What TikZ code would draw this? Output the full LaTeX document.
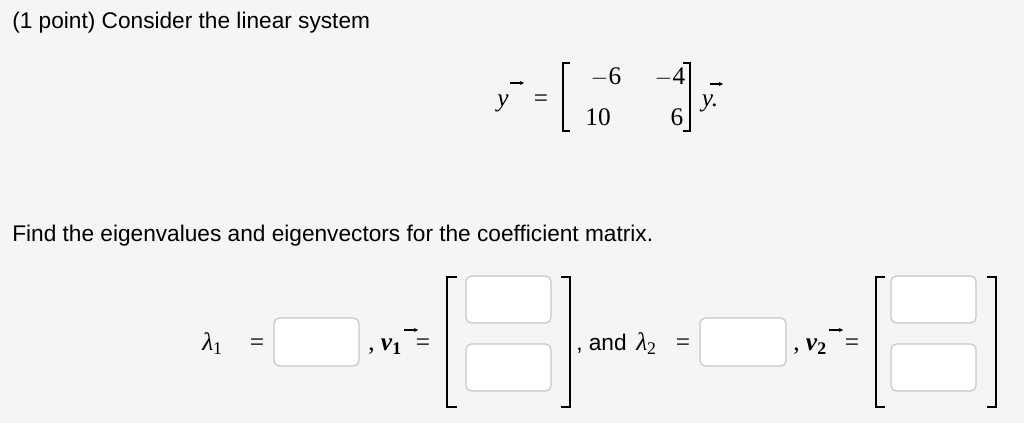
\documentclass[tikz,border=0pt]{standalone}
\usepackage{fontspec}
\usetikzlibrary{arrows.meta}
\setmainfont{Liberation Serif}
\setsansfont{Liberation Sans}
\begin{document}
\begin{tikzpicture}[x=0.75pt,y=-0.75pt,
  sf/.style={font=\sffamily\fontsize{17}{19}\selectfont,inner sep=0,anchor=base west},
  mt/.style={font=\fontsize{19}{21}\selectfont,inner sep=0,anchor=base},
  ibox/.style={draw=black!22,fill=white,rounded corners=4pt,line width=0.9pt},
  brk/.style={line width=1.1pt},
  vec/.style={-{Stealth[length=3pt,width=3pt]},line width=0.8pt}]
\fill[black!4] (0,0) rectangle (1024,423);
\useasboundingbox (0,0) rectangle (1024,423);
\node[sf] (t1) at (12,29) {(1 point) Consider the linear system};
% equation
\node[mt] (y1) at (503,107) {\itshape y};
\draw[vec] (510,83) -- (524,83);
\node[mt] (eq) at (541,107) {=};
\draw[brk] (570,63) -- (563,63) -- (563,131) -- (570,131);
\node[mt] (a) at (606,85) {$-$6};
\node[mt] (b) at (670,85) {$-$4};
\node[mt] (c) at (598,126) {10};
\node[mt] (d) at (677,126) {6};
\draw[brk] (683,63) -- (690,63) -- (690,131) -- (683,131);
\node[mt] (y2) at (710,107) {\itshape y.};
\draw[vec] (710,84) -- (723,84);
\node[sf] (t2) at (12,242) {Find the eigenvalues and eigenvectors for the coefficient matrix.};
% bottom row
\node[mt,anchor=base west] (l1) at (202,351) {\itshape λ\textsubscript{\upshape 1}};
\node[mt] (e1) at (257,351) {=};
\draw[ibox] (274,318) rectangle (359,366);
\node[mt,anchor=base west] (v1) at (368,351) {, \textbf{\itshape v}\textsubscript{\bfseries 1}};
\node[mt] (e2) at (423,351) {=};
\draw[vec] (404,330) -- (418,330);
\draw[brk] (457,277) -- (447,277) -- (447,407) -- (457,407);
\draw[ibox] (466,276) rectangle (551,323);
\draw[ibox] (466,344) rectangle (551,391);
\draw[brk] (561,277) -- (570,277) -- (570,407) -- (561,407);
\node[sf] (and) at (576,351) {, and};
\node[mt,anchor=base west] (l2) at (636,351) {\itshape λ\textsubscript{\upshape 2}};
\node[mt] (e3) at (683,351) {=};
\draw[ibox] (700,318) rectangle (786,366);
\node[mt,anchor=base west] (v2) at (793,351) {, \textbf{\itshape v}\textsubscript{\bfseries 2}};
\node[mt] (e4) at (852,351) {=};
\draw[vec] (829,330) -- (843,330);
\draw[brk] (885,277) -- (876,277) -- (876,407) -- (885,407);
\draw[ibox] (891,276) rectangle (976,323);
\draw[ibox] (891,344) rectangle (976,391);
\draw[brk] (987,277) -- (996,277) -- (996,407) -- (987,407);
\end{tikzpicture}
\end{document}
